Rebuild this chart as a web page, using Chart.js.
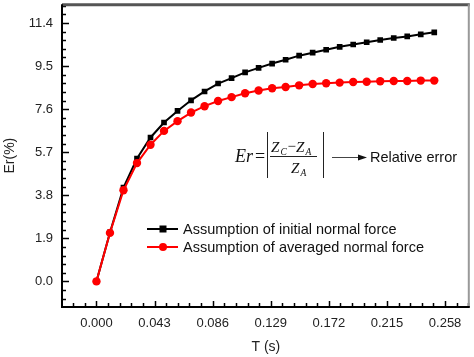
<!DOCTYPE html>
<html><head><meta charset="utf-8">
<script src="https://cdn.jsdelivr.net/npm/chart.js@4/dist/chart.umd.min.js"></script>
<style>html,body{margin:0;padding:0;background:#fff;}#wrap{width:474px;height:357px;}</style>
</head><body><div id="wrap"><canvas id="c" width="474" height="357"></canvas></div>
<script>
const times = [0.00, 0.01, 0.02, 0.03, 0.04, 0.05, 0.06, 0.07, 0.08, 0.09, 0.10, 0.11, 0.12,
               0.13, 0.14, 0.15, 0.16, 0.17, 0.18, 0.19, 0.20, 0.21, 0.22, 0.23, 0.24, 0.25];
const initialForce = [0, 2.16, 4.14, 5.42, 6.35, 7.01, 7.52, 7.99, 8.38, 8.73, 8.97, 9.22, 9.42,
                      9.61, 9.78, 9.96, 10.09, 10.22, 10.35, 10.45, 10.55, 10.65, 10.74, 10.81, 10.90, 10.99];
const averagedForce = [0, 2.14, 4.02, 5.22, 6.03, 6.64, 7.07, 7.45, 7.73, 7.96, 8.13, 8.30, 8.42,
                       8.52, 8.58, 8.65, 8.71, 8.74, 8.77, 8.80, 8.81, 8.83, 8.84, 8.84, 8.86, 8.86];
const xTickLabels = ['0.000', '0.043', '0.086', '0.129', '0.172', '0.215', '0.258'];
const yTickLabels = ['0.0', '1.9', '3.8', '5.7', '7.6', '9.5', '11.4'];
const seriesNames = ['Assumption of initial normal force', 'Assumption of averaged normal force'];
const xTitle = 'T (s)';
const yTitle = 'Er(%)';

const X_MIN = -0.0255, X_MAX = 0.2763, Y_MIN = -1.13, Y_MAX = 12.23;
const xMinorStep = 0.043 / 5, yMinorStep = 1.9 / 5;

const toXY = arr => arr.map((v, i) => ({x: times[i], y: v}));
const noPad = s => { s.paddingTop = 0; s.paddingBottom = 0; s.paddingLeft = 0; s.paddingRight = 0; };

const decor = {
  id: 'decor',
  afterDraw(chart) {
    const ctx = chart.ctx, a = chart.chartArea;
    const xs = chart.scales.x, ys = chart.scales.y;
    ctx.save();
    // ticks (inward)
    ctx.strokeStyle = '#000'; ctx.lineWidth = 1.5;
    for (let v = 0 - 3 * xMinorStep; v <= X_MAX + 1e-9; v += xMinorStep) {
      if (v < X_MIN) continue;
      const major = Math.abs(v / 0.043 - Math.round(v / 0.043)) < 1e-6;
      const px = Math.round(xs.getPixelForValue(v)) + 0.5;
      ctx.beginPath(); ctx.moveTo(px, a.bottom); ctx.lineTo(px, a.bottom - (major ? 6 : 4)); ctx.stroke();
    }
    for (let v = 0 - 2 * yMinorStep; v <= Y_MAX + 1e-9; v += yMinorStep) {
      if (v < Y_MIN) continue;
      const major = Math.abs(v / 1.9 - Math.round(v / 1.9)) < 1e-6;
      const py = Math.round(ys.getPixelForValue(v)) + 0.5;
      ctx.beginPath(); ctx.moveTo(a.left, py); ctx.lineTo(a.left + (major ? 7 : 4), py); ctx.stroke();
    }
    // frame
    ctx.strokeStyle = '#555'; ctx.lineWidth = 3;
    ctx.beginPath(); ctx.moveTo(a.left, a.top + 0.5); ctx.lineTo(a.right, a.top + 0.5); ctx.stroke();
    ctx.strokeStyle = '#999'; ctx.lineWidth = 2;
    ctx.beginPath(); ctx.moveTo(a.right - 1, a.top); ctx.lineTo(a.right - 1, a.bottom); ctx.stroke();
    ctx.strokeStyle = '#000'; ctx.lineWidth = 2;
    ctx.beginPath(); ctx.moveTo(a.left, a.top); ctx.lineTo(a.left, a.bottom); ctx.lineTo(a.right, a.bottom); ctx.stroke();

    // legend
    const ds = chart.data.datasets;
    const legendOrder = [0, 1];
    const rows = [234, 252];
    legendOrder.forEach((di, k) => {
      const d = ds[di];
      const yMid = rows[k] - 5;
      ctx.strokeStyle = d.borderColor; ctx.lineWidth = 2;
      ctx.beginPath(); ctx.moveTo(147, yMid); ctx.lineTo(178, yMid); ctx.stroke();
      ctx.fillStyle = d.backgroundColor;
      if (d.pointStyle === 'rect') ctx.fillRect(163 - 3.5, yMid - 3.5, 7, 7);
      else { ctx.beginPath(); ctx.arc(163, yMid, 4, 0, Math.PI * 2); ctx.fill(); }
      ctx.fillStyle = '#111';
      ctx.font = '14.5px "Liberation Sans", Arial, sans-serif';
      ctx.textBaseline = 'alphabetic'; ctx.textAlign = 'left';
      ctx.fillText(d.label, 183, rows[k]);
    });

    // formula annotation
    ctx.fillStyle = '#111';
    ctx.font = 'italic 18px "Liberation Serif", "Times New Roman", serif';
    ctx.fillText('Er', 235, 162);
    ctx.font = '18px "Liberation Serif", "Times New Roman", serif';
    ctx.fillText('=', 255, 162);
    ctx.strokeStyle = '#222'; ctx.lineWidth = 1;
    ctx.beginPath(); ctx.moveTo(267.5, 132); ctx.lineTo(267.5, 178); ctx.stroke();
    ctx.beginPath(); ctx.moveTo(323.5, 132); ctx.lineTo(323.5, 178); ctx.stroke();
    ctx.beginPath(); ctx.moveTo(270, 156.5); ctx.lineTo(317, 156.5); ctx.stroke();
    ctx.font = 'italic 15px "Liberation Serif", "Times New Roman", serif';
    ctx.fillText('Z', 271, 152);
    ctx.fillText('Z', 296, 152);
    ctx.fillText('Z', 291, 173);
    ctx.font = '15px "Liberation Serif", "Times New Roman", serif';
    ctx.fillText('\u2212', 287.5, 151);
    ctx.font = 'italic 9.5px "Liberation Serif", "Times New Roman", serif';
    ctx.fillText('C', 280.5, 155);
    ctx.fillText('A', 305.5, 155);
    ctx.fillText('A', 300.5, 176);
    // arrow
    ctx.strokeStyle = '#444'; ctx.lineWidth = 1;
    ctx.beginPath(); ctx.moveTo(332, 157.5); ctx.lineTo(360, 157.5); ctx.stroke();
    ctx.fillStyle = '#111';
    ctx.beginPath(); ctx.moveTo(367, 157.5); ctx.lineTo(358, 154.5); ctx.lineTo(358, 160.5); ctx.closePath(); ctx.fill();
    ctx.font = '14.5px "Liberation Sans", Arial, sans-serif';
    ctx.fillText('Relative error', 370, 162);
    ctx.restore();
  }
};

new Chart(document.getElementById('c'), {
  type: 'line',
  data: {
    datasets: [
      {label: seriesNames[0], data: toXY(initialForce), borderColor: '#000', backgroundColor: '#000',
       borderWidth: 2, pointStyle: 'rect', pointRadius: 4, pointBorderWidth: 0, tension: 0, order: 1},
      {label: seriesNames[1], data: toXY(averagedForce), borderColor: '#f00', backgroundColor: '#f00',
       borderWidth: 2, pointStyle: 'circle', pointRadius: 4.2, pointBorderWidth: 0, tension: 0, order: 0}
    ]
  },
  options: {
    responsive: false, animation: false, devicePixelRatio: 1,
    layout: {padding: {top: 1, right: 2, left: 0, bottom: 0}},
    plugins: {legend: {display: false}, tooltip: {enabled: false}},
    scales: {
      x: {
        type: 'linear', min: X_MIN, max: X_MAX,
        grid: {display: false, drawTicks: false}, border: {display: false},
        afterBuildTicks: s => { s.ticks = xTickLabels.map(t => ({value: parseFloat(t)})); },
        afterFit: s => { s.height = 50; noPad(s); },
        ticks: {callback: (v, i) => xTickLabels[i], font: {size: 13, family: '"Liberation Sans", Arial, sans-serif'},
                color: '#222', padding: 9, maxRotation: 0, autoSkip: false},
        title: {display: true, text: xTitle, color: '#222', font: {size: 14, family: '"Liberation Sans", Arial, sans-serif'},
                padding: {top: 0, bottom: 1}}
      },
      y: {
        type: 'linear', min: Y_MIN, max: Y_MAX,
        grid: {display: false, drawTicks: false}, border: {display: false},
        afterBuildTicks: s => { s.ticks = yTickLabels.map(t => ({value: parseFloat(t)})); },
        afterFit: s => { s.width = 62; noPad(s); },
        ticks: {callback: (v, i) => yTickLabels[i], font: {size: 13, family: '"Liberation Sans", Arial, sans-serif'},
                color: '#222', padding: 9, autoSkip: false},
        title: {display: true, text: yTitle, color: '#222', font: {size: 14, family: '"Liberation Sans", Arial, sans-serif'},
                padding: {top: 2, bottom: 0}}
      }
    }
  },
  plugins: [decor]
});
</script></body></html>
